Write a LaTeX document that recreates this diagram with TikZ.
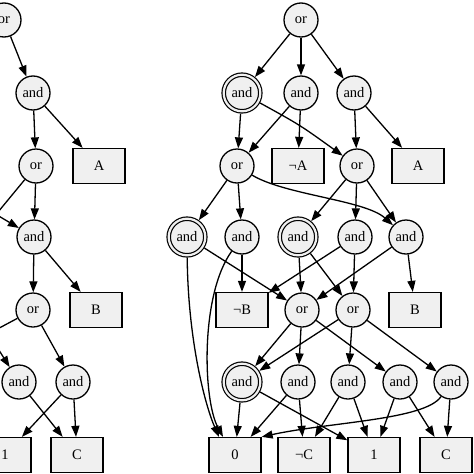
\documentclass[tikz,border=0pt]{standalone}
\usepackage{fontspec}
\setmainfont{Liberation Serif}
\usetikzlibrary{arrows.meta}
\begin{document}
\begin{tikzpicture}[x=1pt,y=1pt,
  lbl/.style={font=\fontsize{14.5}{14.5}\selectfont},
  op/.style={lbl,circle,draw,fill=gray!12,line width=1.3pt,minimum size=34pt,inner sep=0pt},
  dop/.style={lbl,circle,draw,fill=gray!12,double=gray!12,double distance=2.2pt,line width=1.2pt,minimum size=36.6pt,inner sep=0pt,outer sep=2.3pt},
  leaf/.style={lbl,rectangle,draw,fill=gray!12,line width=1.3pt,minimum width=52pt,minimum height=35pt,inner sep=0pt},
  e/.style={line width=1.3pt,-{Triangle[length=11pt,width=8pt]}},
]
\useasboundingbox (0,0) rectangle (474,-474);
\clip (0,0) rectangle (474,-474);
% ---------- left graph ----------
\node[op] (orLa) at (4,-20) {or};
\node[op] (andLa) at (33,-93) {and};
\node[op] (orLb) at (36,-166) {or};
\node[leaf] (ALa) at (99,-166) {A};
\node[op] (andLb) at (34,-237) {and};
\node[op] (orLc) at (33,-310) {or};
\node[leaf] (BLa) at (96,-310) {B};
\node[op] (andLc) at (19,-382) {and};
\node[op] (andLd) at (73,-382) {and};
\node[leaf] (oneL) at (5,-455) {1};
\node[leaf] (CLa) at (77,-455) {C};
\coordinate (offA) at (-30,-246);
\coordinate (offB) at (-40,-193);
\coordinate (offC) at (-40,-349);
\coordinate (offD) at (-20,-320);
\draw[e] (orLa) -- (andLa);
\draw[e] (andLa) -- (orLb);
\draw[e] (andLa) -- (ALa);
\draw[e] (orLb) -- (andLb);
\draw[e] (orLb) -- (offA);
\draw[e] (offB) -- (andLb);
\draw[e] (andLb) -- (orLc);
\draw[e] (andLb) -- (BLa);
\draw[e] (orLc) -- (offC);
\draw[e] (orLc) -- (andLd);
\draw[e] (offD) -- (andLc);
\draw[e] (andLc) -- (CLa);
\draw[e] (andLd) -- (oneL);
\draw[e] (andLd) -- (CLa);
% ---------- right graph ----------
\node[op] (orA) at (301,-20) {or};
\node[dop] (dA) at (242,-93) {and};
\node[op] (andB) at (301,-93) {and};
\node[op] (andC) at (354,-93) {and};
\node[op] (orB) at (237,-166) {or};
\node[leaf] (notA) at (298,-166) {¬A};
\node[op] (orC) at (357,-166) {or};
\node[leaf] (ARt) at (418,-166) {A};
\node[dop] (dB) at (187,-237) {and};
\node[op] (andE) at (242,-237) {and};
\node[dop] (dC) at (298,-237) {and};
\node[op] (andF) at (355,-237) {and};
\node[op] (andG) at (406,-237) {and};
\node[leaf] (notB) at (242,-310) {¬B};
\node[op] (orD) at (302,-310) {or};
\node[op] (orE) at (353,-310) {or};
\node[leaf] (BRt) at (415,-310) {B};
\node[dop] (dD) at (242,-382) {and};
\node[op] (andH) at (298,-382) {and};
\node[op] (andI) at (348,-382) {and};
\node[op] (andJ) at (400,-382) {and};
\node[op] (andK) at (451,-382) {and};
\node[leaf] (zero) at (235,-455) {0};
\node[leaf] (notC) at (304,-455) {¬C};
\node[leaf] (oneR) at (374,-455) {1};
\node[leaf] (CRt) at (446,-455) {C};
% level 1
\draw[e] (orA) -- (dA);
\draw[e] (orA) -- (andB);
\draw[e] (orA) -- (andC);
% level 2
\draw[e] (dA) -- (orB);
\draw[e] (dA) .. controls (300,-125) .. (orC);
\draw[e] (andB) -- (orB);
\draw[e] (andB) -- (notA);
\draw[e] (andC) -- (orC);
\draw[e] (andC) -- (ARt);
% level 3
\draw[e] (orB) -- (dB);
\draw[e] (orB) -- (andE);
\draw[e] (orB) .. controls (285,-195) and (365,-200) .. (andG);
\draw[e] (orC) -- (dC);
\draw[e] (orC) -- (andF);
\draw[e] (orC) -- (andG);
% level 4
\draw[e] (dB) -- (orD);
\draw[e] (dB) .. controls (188,-340) and (205,-405) .. ([xshift=-16pt]zero.north);
\draw[e] (andE) -- (notB);
\draw[e] (andE) .. controls (200,-295) and (203,-400) .. ([xshift=-12pt]zero.north);
\draw[e] (dC) -- (orD);
\draw[e] (dC) -- (orE);
\draw[e] (andF) -- (notB);
\draw[e] (andF) -- (orE);
\draw[e] (andG) -- (orD);
\draw[e] (andG) -- (BRt);
% level 5
\draw[e] (orD) -- (dD);
\draw[e] (orD) -- (andH);
\draw[e] (orD) -- (andJ);
\draw[e] (orE) -- (dD);
\draw[e] (orE) -- (andI);
\draw[e] (orE) -- (andK);
% level 6
\draw[e] (dD) -- (zero);
\draw[e] (dD) -- (oneR);
\draw[e] (andH) -- (zero);
\draw[e] (andH) -- (notC);
\draw[e] (andI) -- (notC);
\draw[e] (andI) -- (oneR);
\draw[e] (andJ) -- (oneR);
\draw[e] (andJ) -- (CRt);
\draw[e] (andK) -- (CRt);
\draw[e] (andK) .. controls (425,-420) and (330,-422) .. (zero.north east);
\end{tikzpicture}
\end{document}
